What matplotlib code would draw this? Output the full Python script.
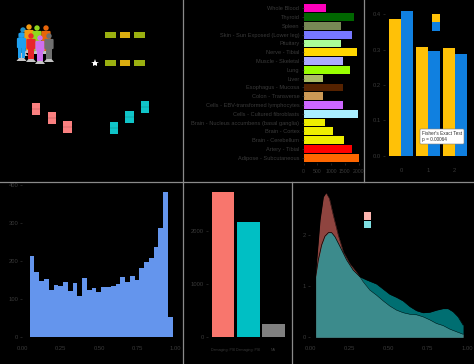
import matplotlib
matplotlib.use("Agg")
import matplotlib.pyplot as plt
from matplotlib.patches import Rectangle, Circle, FancyBboxPatch, Polygon
from matplotlib.lines import Line2D

W, H = 474, 364
TXT = "#3a3a3a"

# tissue panel
tissues = ["Adipose - Subcutaneous", "Artery - Tibial", "Brain - Cerebellum", "Brain - Cortex",
           "Brain - Nucleus accumbens (basal ganglia)", "Cells - Cultured fibroblasts",
           "Cells - EBV-transformed lymphocytes", "Colon - Transverse", "Esophagus - Mucosa",
           "Liver", "Lung", "Muscle - Skeletal", "Nerve - Tibial", "Pituitary",
           "Skin - Sun Exposed (Lower leg)", "Spleen", "Thyroid", "Whole Blood"]
tissue_counts = [2025, 1780, 1460, 1090, 770, 1975, 1425, 700, 1450, 710, 1705, 1435, 1960, 1360, 1770, 1375, 1840, 800]
tissue_colors = ["#ff6600", "#ff0000", "#eeee00", "#eeee00", "#eeee00", "#aaeeff", "#cc66ff", "#cc9955",
                 "#552200", "#aabb66", "#99ff00", "#aaaaff", "#ffd700", "#aaff99", "#7777ff", "#778855",
                 "#006600", "#ff00bb"]
tissue_ticks = [0, 500, 1000, 1500, 2000]

# enrichment panel
group_labels = ["0", "1", "2"]
yellow_vals = [0.387, 0.307, 0.304]
blue_vals = [0.410, 0.296, 0.289]
enrich_ticks = [0.0, 0.1, 0.2, 0.3, 0.4]

# histogram
hist_heights = [213, 172, 149, 152, 125, 137, 135, 146, 122, 142, 109, 156, 125, 129, 119,
                133, 131, 134, 139, 158, 146, 162, 151, 182, 198, 209, 236, 286, 382, 53]
hist_start, hist_width = 0.048, 0.0311
hist_xticks = [0.0, 0.25, 0.5, 0.75, 1.0]
hist_yticks = [0, 100, 200, 300, 400]

# count bars
count_labels = ["Damaging: PSI", "Damaging: PSI", "NA"]
count_vals = [2736, 2182, 258]
count_colors = ["#F8766D", "#00BFC4", "#808080"]
count_ticks = [0, 1000, 2000]

# densities
dens_ax = [.036, .064, .085, .102, .123, .148, .180, .212, .254, .303, .339, .381, .424, .466, .508, .551,
           .593, .636, .678, .720, .763, .805, .847, .890, .932, .975]
dens_ay = [1.25, 2.29, 2.74, 2.82, 2.71, 2.38, 1.99, 1.67, 1.44, 1.25, 1.08, .92, .82, .71, .61, .53,
           .48, .45, .44, .40, .34, .27, .23, .16, .11, .06]
dens_bx = [.036, .053, .074, .095, .117, .138, .159, .191, .233, .275, .318, .360, .424, .466, .508, .551,
           .593, .636, .678, .720, .763, .805, .847, .879, .911, .943, .975]
dens_by = [1.18, 1.51, 1.80, 1.97, 2.04, 2.04, 1.96, 1.77, 1.51, 1.31, 1.18, 1.12, 1.04, .94, .84, .78,
           .71, .60, .52, .48, .49, .53, .56, .56, .50, .40, .24]
dens_xticks = [0.0, 0.25, 0.5, 0.75, 1.0]
dens_yticks = [0, 1, 2]

plt.rcParams["font.family"] = ["Liberation Sans", "DejaVu Sans"]
fig = plt.figure(figsize=(W / 100, H / 100), dpi=100, facecolor="black")


def make_ax(l, t, r, b):
    ax = fig.add_axes([l / W, 1 - b / H, (r - l) / W, (b - t) / H], facecolor="none")
    for s in ax.spines.values():
        s.set_visible(False)
    ax.tick_params(colors=TXT, labelcolor=TXT, labelsize=4.2, length=1.5, width=0.4, pad=1.5)
    return ax


# overlay for the schematic panel, in pixel units
ov = fig.add_axes([0, 0, 1, 1], facecolor="none")
ov.set_xlim(0, W)
ov.set_ylim(H, 0)
ov.axis("off")


def person(x, y, c):
    ov.add_patch(Polygon([(x - 5, y + 26), (x - 1, y + 21), (x + 1, y + 21), (x + 5, y + 26)],
                         color="#c4c4c4", lw=0))
    ov.add_patch(Circle((x, y), 2.7, color=c, lw=0))
    ov.add_patch(FancyBboxPatch((x - 3.5, y + 4), 7, 8, boxstyle="round,pad=1.1", color=c, lw=0))
    ov.add_patch(Rectangle((x - 3.2, y + 12), 3, 11, color=c, lw=0))
    ov.add_patch(Rectangle((x + 0.2, y + 12), 3, 11, color=c, lw=0))


for x, y, c in [(23, 30, "#1e90c8"), (29, 27, "#f59a10"), (37, 28, "#8fd81e"), (46, 28, "#e8650a"),
                (21.5, 35, "#1fa0f0"), (31, 36, "#e8262a"), (40, 38, "#d070f0"), (49, 36, "#707070")]:
    person(x, y, c)

for x, c in [(105.5, "#9ab010"), (120, "#dcae10"), (134.5, "#9ab010")]:
    ov.add_patch(Rectangle((x, 32), 10.5, 6, color=c, lw=0))
for x, c in [(105.5, "#9ab010"), (120, "#dcae10"), (134.5, "#9ab010")]:
    ov.add_patch(Rectangle((x, 60), 10.5, 6, color=c, lw=0))
ov.plot([95.5], [63], marker="*", ms=6, color="white", mew=0)

for x, y, c in [(32, 103, "#fa8080"), (48, 112, "#fa8080"), (63.5, 121, "#fa8080"),
                (110, 122, "#10c4c8"), (125.5, 111, "#10c4c8"), (141, 101, "#10c4c8")]:
    ov.add_patch(Rectangle((x, y), 8.5, 12, color=c, lw=0))
    ov.plot([x, x + 8.5], [y + 6, y + 6], color="black", lw=0.25, alpha=0.4)

for x0, y0, x1, y1 in [(182.5, 0, 182.5, 182), (364, 0, 364, 182), (0, 181.5, W, 181.5),
                       (182.5, 182, 182.5, H), (291.5, 182, 291.5, H)]:
    fig.add_artist(Line2D([x0 / W, x1 / W], [1 - y0 / H, 1 - y1 / H], color="#8a8a8a", lw=0.9))

# tissue bars
ax = make_ax(303.5, 3.5, 361, 162.5)
ax.barh(range(len(tissues)), tissue_counts, height=0.88, color=tissue_colors)
ax.set_xlim(0, 2090)
ax.set_ylim(-0.55, 17.55)
ax.set_yticks(range(len(tissues)), tissues)
ax.set_xticks(tissue_ticks)
ax.tick_params(axis="y", labelsize=4.05)
ax.tick_params(axis="x", labelsize=3.7, pad=3)

# enrichment bars
ax = make_ax(385, 5, 470, 155.7)
ax.bar([i - 0.225 for i in range(3)], yellow_vals, width=0.45, color="#FFC107")
ax.bar([i + 0.225 for i in range(3)], blue_vals, width=0.45, color="#1080E0")
ax.set_xlim((385 - 401.3) / 26.7, (470 - 401.3) / 26.7)
ax.set_ylim(0, 150.7 / 353)
ax.set_yticks(enrich_ticks, ["0.0", "0.1", "0.2", "0.3", "0.4"])
ax.set_xticks(range(3), group_labels)
ax.tick_params(axis="x", pad=9, length=0)
ov.add_patch(Rectangle((431.7, 13.7), 8.6, 8.7, color="#FFC107", lw=0))
ov.add_patch(Rectangle((431.7, 22.4), 8.6, 8.6, color="#1080E0", lw=0))

# histogram
ax = make_ax(22.3, 185, 175.7, 337.3)
ax.bar([hist_start + i * hist_width for i in range(len(hist_heights))], hist_heights, width=hist_width,
       align="edge", color="#6495ED", lw=0)
ax.set_xlim(0, 1)
ax.set_ylim(0, 400)
ax.set_xticks(hist_xticks, ["0.00", "0.25", "0.50", "0.75", "1.00"])
ax.set_yticks(hist_yticks)
ax.tick_params(axis="x", pad=6, length=0)

# counts
ax = make_ax(208, 187, 289, 337.3)
ax.bar(range(3), count_vals, width=0.89, color=count_colors)
ax.set_xlim((208 - 223) / 25.3, (289 - 223) / 25.3)
ax.set_ylim(0, 150.3 / 53 * 1000)
ax.set_yticks(count_ticks)
ax.set_xticks(range(3), count_labels)
ax.tick_params(axis="x", labelsize=2.6, pad=8, length=0)

# densities
ax = make_ax(310, 187, 467, 337.3)
ax.fill_between(dens_ax, 0, dens_ay, color="#F8766D", alpha=0.58, lw=0)
ax.plot(dens_ax, dens_ay, color="black", lw=0.3)
ax.fill_between(dens_bx, 0, dens_by, color="#00BFC4", alpha=0.58, lw=0)
ax.plot(dens_bx, dens_by, color="black", lw=0.5)
ax.set_xlim(0, 1)
ax.set_ylim(0, 150.3 / 51.3)
ax.set_xticks(dens_xticks, ["0.00", "0.25", "0.50", "0.75", "1.00"])
ax.set_yticks(dens_yticks)
ax.tick_params(axis="x", pad=6, length=0)
ov.add_patch(Rectangle((364, 212), 7.5, 7.5, color="#FBB5AF", lw=0))
ov.add_patch(Rectangle((364, 220.5), 7.5, 7.5, color="#7FDFE2", lw=0))

# Fisher box on top of everything
top = fig.add_axes([0, 0, 1, 1], facecolor="none")
top.set_xlim(0, W)
top.set_ylim(H, 0)
top.axis("off")
top.add_patch(FancyBboxPatch((421, 130), 42, 13, boxstyle="round,pad=1", fc="white", ec="#808080", lw=0.4))
top.text(421.8, 136.5, "Fisher's Exact Test\np = 0.00064", ha="left", va="center", fontsize=3.4,
         color="#303030", linespacing=1.35)

fig.savefig("out.png", dpi=100, facecolor="black")
